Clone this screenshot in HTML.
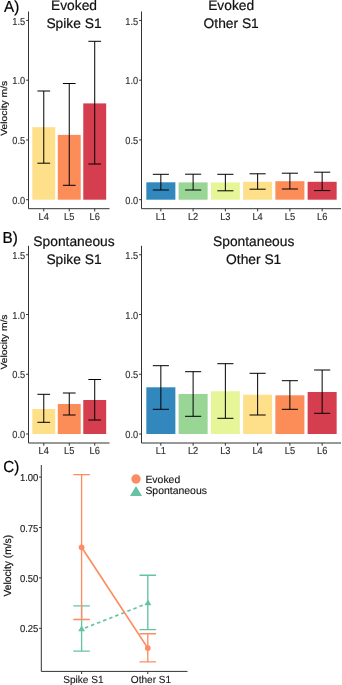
<!DOCTYPE html>
<html lang="en"><head><meta charset="utf-8"><title>Figure</title>
<style>
html,body{margin:0;padding:0;background:#fff;}
body{width:342px;height:685px;overflow:hidden;}
svg{display:block;font-family:"Liberation Sans",Arial,Helvetica,sans-serif;text-rendering:geometricPrecision;}
text{stroke-width:0.12px;stroke:currentColor;paint-order:stroke;}
.ttl,.tag,.yl{stroke-width:0.2px;}
.tk{font-size:10.2px;fill:#2a2a2a;color:#2a2a2a;}
.tkc{font-size:10.1px;fill:#151515;color:#151515;}
.ttl{font-size:13.8px;fill:#111;color:#111;}
.tag{font-size:16px;fill:#000;color:#000;}
.yl{font-size:10.3px;fill:#111;color:#111;}
.lg{font-size:10.45px;fill:#111;color:#111;}
</style></head><body>
<svg width="342" height="685" viewBox="0 0 342 685">
<rect width="342" height="685" fill="#ffffff"/>
<text transform="translate(4.00 12.30) scale(0.95 1)" text-anchor="start" class="tag">A)</text>
<text x="74" y="10.2" text-anchor="middle" class="ttl">Evoked</text>
<text x="74" y="28.2" text-anchor="middle" class="ttl">Spike S1</text>
<text x="231.2" y="10.2" text-anchor="middle" class="ttl">Evoked</text>
<text x="231.2" y="28.2" text-anchor="middle" class="ttl">Other S1</text>
<text transform="translate(7.4 108.3) rotate(-90) scale(1 0.87)" text-anchor="middle" class="yl">Velocity m/s</text>
<rect x="32.32" y="127.20" width="22.92" height="72.50" fill="#FEE08B"/>
<rect x="57.79" y="134.90" width="22.92" height="64.80" fill="#FC8D59"/>
<rect x="83.26" y="103.40" width="22.92" height="96.30" fill="#D53E4F"/>
<path d="M37.41 91.00H50.15M43.78 91.00V163.20M37.41 163.20H50.15" stroke="#000000" stroke-width="1" fill="none"/>
<path d="M62.88 83.50H75.62M69.25 83.50V185.30M62.88 185.30H75.62" stroke="#000000" stroke-width="1" fill="none"/>
<path d="M88.35 41.30H101.09M94.72 41.30V164.00M88.35 164.00H101.09" stroke="#000000" stroke-width="1" fill="none"/>
<path d="M28.50 11.50V208.70H109.50" stroke="#333333" stroke-width="1" fill="none"/>
<path d="M26.10 199.70H28.50" stroke="#333333" stroke-width="1"/>
<text transform="translate(25.20 203.80) scale(0.91 1)" text-anchor="end" class="tk">0.0</text>
<path d="M26.10 139.95H28.50" stroke="#333333" stroke-width="1"/>
<text transform="translate(25.20 144.05) scale(0.91 1)" text-anchor="end" class="tk">0.5</text>
<path d="M26.10 80.20H28.50" stroke="#333333" stroke-width="1"/>
<text transform="translate(25.20 84.30) scale(0.91 1)" text-anchor="end" class="tk">1.0</text>
<path d="M26.10 20.45H28.50" stroke="#333333" stroke-width="1"/>
<text transform="translate(25.20 24.55) scale(0.91 1)" text-anchor="end" class="tk">1.5</text>
<path d="M43.78 208.70v2.7" stroke="#333333" stroke-width="1"/>
<text transform="translate(43.78 219.80) scale(0.91 1)" text-anchor="middle" class="tk">L4</text>
<path d="M69.25 208.70v2.7" stroke="#333333" stroke-width="1"/>
<text transform="translate(69.25 219.80) scale(0.91 1)" text-anchor="middle" class="tk">L5</text>
<path d="M94.72 208.70v2.7" stroke="#333333" stroke-width="1"/>
<text transform="translate(94.72 219.80) scale(0.91 1)" text-anchor="middle" class="tk">L6</text>
<rect x="146.34" y="182.30" width="29.03" height="17.40" fill="#3288BD"/>
<rect x="178.60" y="182.40" width="29.03" height="17.30" fill="#99D594"/>
<rect x="210.85" y="182.40" width="29.03" height="17.30" fill="#E6F598"/>
<rect x="243.11" y="181.80" width="29.03" height="17.90" fill="#FEE08B"/>
<rect x="275.37" y="181.20" width="29.03" height="18.50" fill="#FC8D59"/>
<rect x="307.63" y="181.80" width="29.03" height="17.90" fill="#D53E4F"/>
<path d="M152.79 174.30H168.92M160.85 174.30V190.00M152.79 190.00H168.92" stroke="#000000" stroke-width="1" fill="none"/>
<path d="M185.05 174.20H201.18M193.11 174.20V190.00M185.05 190.00H201.18" stroke="#000000" stroke-width="1" fill="none"/>
<path d="M217.31 174.30H233.44M225.37 174.30V190.80M217.31 190.80H233.44" stroke="#000000" stroke-width="1" fill="none"/>
<path d="M249.56 173.80H265.69M257.63 173.80V189.20M249.56 189.20H265.69" stroke="#000000" stroke-width="1" fill="none"/>
<path d="M281.82 173.20H297.95M289.89 173.20V189.00M281.82 189.00H297.95" stroke="#000000" stroke-width="1" fill="none"/>
<path d="M314.08 172.20H330.21M322.15 172.20V190.60M314.08 190.60H330.21" stroke="#000000" stroke-width="1" fill="none"/>
<path d="M141.50 11.50V208.70H341.00" stroke="#333333" stroke-width="1" fill="none"/>
<path d="M139.10 199.70H141.50" stroke="#333333" stroke-width="1"/>
<text transform="translate(138.20 203.80) scale(0.91 1)" text-anchor="end" class="tk">0.0</text>
<path d="M139.10 139.95H141.50" stroke="#333333" stroke-width="1"/>
<text transform="translate(138.20 144.05) scale(0.91 1)" text-anchor="end" class="tk">0.5</text>
<path d="M139.10 80.20H141.50" stroke="#333333" stroke-width="1"/>
<text transform="translate(138.20 84.30) scale(0.91 1)" text-anchor="end" class="tk">1.0</text>
<path d="M139.10 20.45H141.50" stroke="#333333" stroke-width="1"/>
<text transform="translate(138.20 24.55) scale(0.91 1)" text-anchor="end" class="tk">1.5</text>
<path d="M160.85 208.70v2.7" stroke="#333333" stroke-width="1"/>
<text transform="translate(160.85 219.80) scale(0.91 1)" text-anchor="middle" class="tk">L1</text>
<path d="M193.11 208.70v2.7" stroke="#333333" stroke-width="1"/>
<text transform="translate(193.11 219.80) scale(0.91 1)" text-anchor="middle" class="tk">L2</text>
<path d="M225.37 208.70v2.7" stroke="#333333" stroke-width="1"/>
<text transform="translate(225.37 219.80) scale(0.91 1)" text-anchor="middle" class="tk">L3</text>
<path d="M257.63 208.70v2.7" stroke="#333333" stroke-width="1"/>
<text transform="translate(257.63 219.80) scale(0.91 1)" text-anchor="middle" class="tk">L4</text>
<path d="M289.89 208.70v2.7" stroke="#333333" stroke-width="1"/>
<text transform="translate(289.89 219.80) scale(0.91 1)" text-anchor="middle" class="tk">L5</text>
<path d="M322.15 208.70v2.7" stroke="#333333" stroke-width="1"/>
<text transform="translate(322.15 219.80) scale(0.91 1)" text-anchor="middle" class="tk">L6</text>
<text transform="translate(2.60 242.70) scale(0.95 1)" text-anchor="start" class="tag">B)</text>
<text x="74" y="245.7" text-anchor="middle" class="ttl">Spontaneous</text>
<text x="74" y="263.7" text-anchor="middle" class="ttl">Spike S1</text>
<text x="253.7" y="245.7" text-anchor="middle" class="ttl">Spontaneous</text>
<text x="253.7" y="263.7" text-anchor="middle" class="ttl">Other S1</text>
<text transform="translate(7.4 342.0) rotate(-90) scale(1 0.87)" text-anchor="middle" class="yl">Velocity m/s</text>
<rect x="32.32" y="409.00" width="22.92" height="25.00" fill="#FEE08B"/>
<rect x="57.79" y="404.00" width="22.92" height="30.00" fill="#FC8D59"/>
<rect x="83.26" y="400.00" width="22.92" height="34.00" fill="#D53E4F"/>
<path d="M37.41 394.30H50.15M43.78 394.30V422.30M37.41 422.30H50.15" stroke="#000000" stroke-width="1" fill="none"/>
<path d="M62.88 393.00H75.62M69.25 393.00V415.00M62.88 415.00H75.62" stroke="#000000" stroke-width="1" fill="none"/>
<path d="M88.35 379.50H101.09M94.72 379.50V420.00M88.35 420.00H101.09" stroke="#000000" stroke-width="1" fill="none"/>
<path d="M28.50 245.80V443.00H109.50" stroke="#333333" stroke-width="1" fill="none"/>
<path d="M26.10 434.00H28.50" stroke="#333333" stroke-width="1"/>
<text transform="translate(25.20 438.10) scale(0.91 1)" text-anchor="end" class="tk">0.0</text>
<path d="M26.10 374.25H28.50" stroke="#333333" stroke-width="1"/>
<text transform="translate(25.20 378.35) scale(0.91 1)" text-anchor="end" class="tk">0.5</text>
<path d="M26.10 314.50H28.50" stroke="#333333" stroke-width="1"/>
<text transform="translate(25.20 318.60) scale(0.91 1)" text-anchor="end" class="tk">1.0</text>
<path d="M26.10 254.75H28.50" stroke="#333333" stroke-width="1"/>
<text transform="translate(25.20 258.85) scale(0.91 1)" text-anchor="end" class="tk">1.5</text>
<path d="M43.78 443.00v2.7" stroke="#333333" stroke-width="1"/>
<text transform="translate(43.78 454.10) scale(0.91 1)" text-anchor="middle" class="tk">L4</text>
<path d="M69.25 443.00v2.7" stroke="#333333" stroke-width="1"/>
<text transform="translate(69.25 454.10) scale(0.91 1)" text-anchor="middle" class="tk">L5</text>
<path d="M94.72 443.00v2.7" stroke="#333333" stroke-width="1"/>
<text transform="translate(94.72 454.10) scale(0.91 1)" text-anchor="middle" class="tk">L6</text>
<rect x="146.34" y="387.30" width="29.03" height="46.70" fill="#3288BD"/>
<rect x="178.60" y="394.00" width="29.03" height="40.00" fill="#99D594"/>
<rect x="210.85" y="391.30" width="29.03" height="42.70" fill="#E6F598"/>
<rect x="243.11" y="394.70" width="29.03" height="39.30" fill="#FEE08B"/>
<rect x="275.37" y="395.30" width="29.03" height="38.70" fill="#FC8D59"/>
<rect x="307.63" y="392.00" width="29.03" height="42.00" fill="#D53E4F"/>
<path d="M152.79 365.70H168.92M160.85 365.70V409.30M152.79 409.30H168.92" stroke="#000000" stroke-width="1" fill="none"/>
<path d="M185.05 371.70H201.18M193.11 371.70V416.30M185.05 416.30H201.18" stroke="#000000" stroke-width="1" fill="none"/>
<path d="M217.31 363.70H233.44M225.37 363.70V418.30M217.31 418.30H233.44" stroke="#000000" stroke-width="1" fill="none"/>
<path d="M249.56 373.30H265.69M257.63 373.30V415.00M249.56 415.00H265.69" stroke="#000000" stroke-width="1" fill="none"/>
<path d="M281.82 380.70H297.95M289.89 380.70V409.30M281.82 409.30H297.95" stroke="#000000" stroke-width="1" fill="none"/>
<path d="M314.08 370.00H330.21M322.15 370.00V413.30M314.08 413.30H330.21" stroke="#000000" stroke-width="1" fill="none"/>
<path d="M141.50 245.80V443.00H341.00" stroke="#333333" stroke-width="1" fill="none"/>
<path d="M139.10 434.00H141.50" stroke="#333333" stroke-width="1"/>
<text transform="translate(138.20 438.10) scale(0.91 1)" text-anchor="end" class="tk">0.0</text>
<path d="M139.10 374.25H141.50" stroke="#333333" stroke-width="1"/>
<text transform="translate(138.20 378.35) scale(0.91 1)" text-anchor="end" class="tk">0.5</text>
<path d="M139.10 314.50H141.50" stroke="#333333" stroke-width="1"/>
<text transform="translate(138.20 318.60) scale(0.91 1)" text-anchor="end" class="tk">1.0</text>
<path d="M139.10 254.75H141.50" stroke="#333333" stroke-width="1"/>
<text transform="translate(138.20 258.85) scale(0.91 1)" text-anchor="end" class="tk">1.5</text>
<path d="M160.85 443.00v2.7" stroke="#333333" stroke-width="1"/>
<text transform="translate(160.85 454.10) scale(0.91 1)" text-anchor="middle" class="tk">L1</text>
<path d="M193.11 443.00v2.7" stroke="#333333" stroke-width="1"/>
<text transform="translate(193.11 454.10) scale(0.91 1)" text-anchor="middle" class="tk">L2</text>
<path d="M225.37 443.00v2.7" stroke="#333333" stroke-width="1"/>
<text transform="translate(225.37 454.10) scale(0.91 1)" text-anchor="middle" class="tk">L3</text>
<path d="M257.63 443.00v2.7" stroke="#333333" stroke-width="1"/>
<text transform="translate(257.63 454.10) scale(0.91 1)" text-anchor="middle" class="tk">L4</text>
<path d="M289.89 443.00v2.7" stroke="#333333" stroke-width="1"/>
<text transform="translate(289.89 454.10) scale(0.91 1)" text-anchor="middle" class="tk">L5</text>
<path d="M322.15 443.00v2.7" stroke="#333333" stroke-width="1"/>
<text transform="translate(322.15 454.10) scale(0.91 1)" text-anchor="middle" class="tk">L6</text>
<text transform="translate(3.30 471.90) scale(0.95 1)" text-anchor="start" class="tag">C)</text>
<text transform="translate(11.4 565.7) rotate(-90)" text-anchor="middle" class="yl">Velocity (m/s)</text>
<path d="M41.3 465V671.4H187.5" stroke="#333333" stroke-width="1" fill="none"/>
<path d="M39.099999999999994 477.10H41.3" stroke="#333333" stroke-width="1"/>
<text transform="translate(38.40 481.10) scale(0.94 1)" text-anchor="end" class="tkc">1.00</text>
<path d="M39.099999999999994 527.50H41.3" stroke="#333333" stroke-width="1"/>
<text transform="translate(38.40 531.50) scale(0.94 1)" text-anchor="end" class="tkc">0.75</text>
<path d="M39.099999999999994 577.90H41.3" stroke="#333333" stroke-width="1"/>
<text transform="translate(38.40 581.90) scale(0.94 1)" text-anchor="end" class="tkc">0.50</text>
<path d="M39.099999999999994 628.30H41.3" stroke="#333333" stroke-width="1"/>
<text transform="translate(38.40 632.30) scale(0.94 1)" text-anchor="end" class="tkc">0.25</text>
<path d="M81.6 671.4v2.6" stroke="#333333" stroke-width="1"/>
<text transform="translate(83.40 682.60) scale(0.98 1)" text-anchor="middle" class="tkc" style="font-size:10.3px">Spike S1</text>
<path d="M147.8 671.4v2.6" stroke="#333333" stroke-width="1"/>
<text transform="translate(151.00 682.60) scale(0.98 1)" text-anchor="middle" class="tkc" style="font-size:10.3px">Other S1</text>
<path d="M73.30 605.8H89.90M81.6 605.8V651.1M73.30 651.1H89.90" stroke="#66C2A5" stroke-width="1.35" fill="none"/>
<path d="M139.50 575.2H156.10M147.8 575.2V629.6M139.50 629.6H156.10" stroke="#66C2A5" stroke-width="1.35" fill="none"/>
<path d="M81.6 629.3L147.8 603.3" stroke="#66C2A5" stroke-width="1.7" stroke-dasharray="3.5 3.0" stroke-dashoffset="2.85" fill="none"/>
<path d="M81.6 625.39L85.00 631.34H78.20Z" fill="#66C2A5"/>
<path d="M148.0 599.39L151.40 605.34H144.60Z" fill="#66C2A5"/>
<path d="M73.30 474.6H89.90M81.6 474.6V619.5M73.30 619.5H89.90" stroke="#FC8D62" stroke-width="1.35" fill="none"/>
<path d="M139.50 633.7H156.10M147.8 633.7V661.8M139.50 661.8H156.10" stroke="#FC8D62" stroke-width="1.35" fill="none"/>
<path d="M81.6 547.3L147.8 648.1" stroke="#FC8D62" stroke-width="1.7" fill="none"/>
<circle cx="81.6" cy="547.3" r="2.9" fill="#FC8D62"/><circle cx="147.8" cy="648.1" r="2.9" fill="#FC8D62"/>
<circle cx="136" cy="479" r="4.7" fill="#FC8D62"/>
<path d="M136 486L142 496H130Z" fill="#66C2A5"/>
<text x="145.4" y="482.7" class="lg">Evoked</text>
<text x="145.4" y="494.4" class="lg">Spontaneous</text>
</svg></body></html>
